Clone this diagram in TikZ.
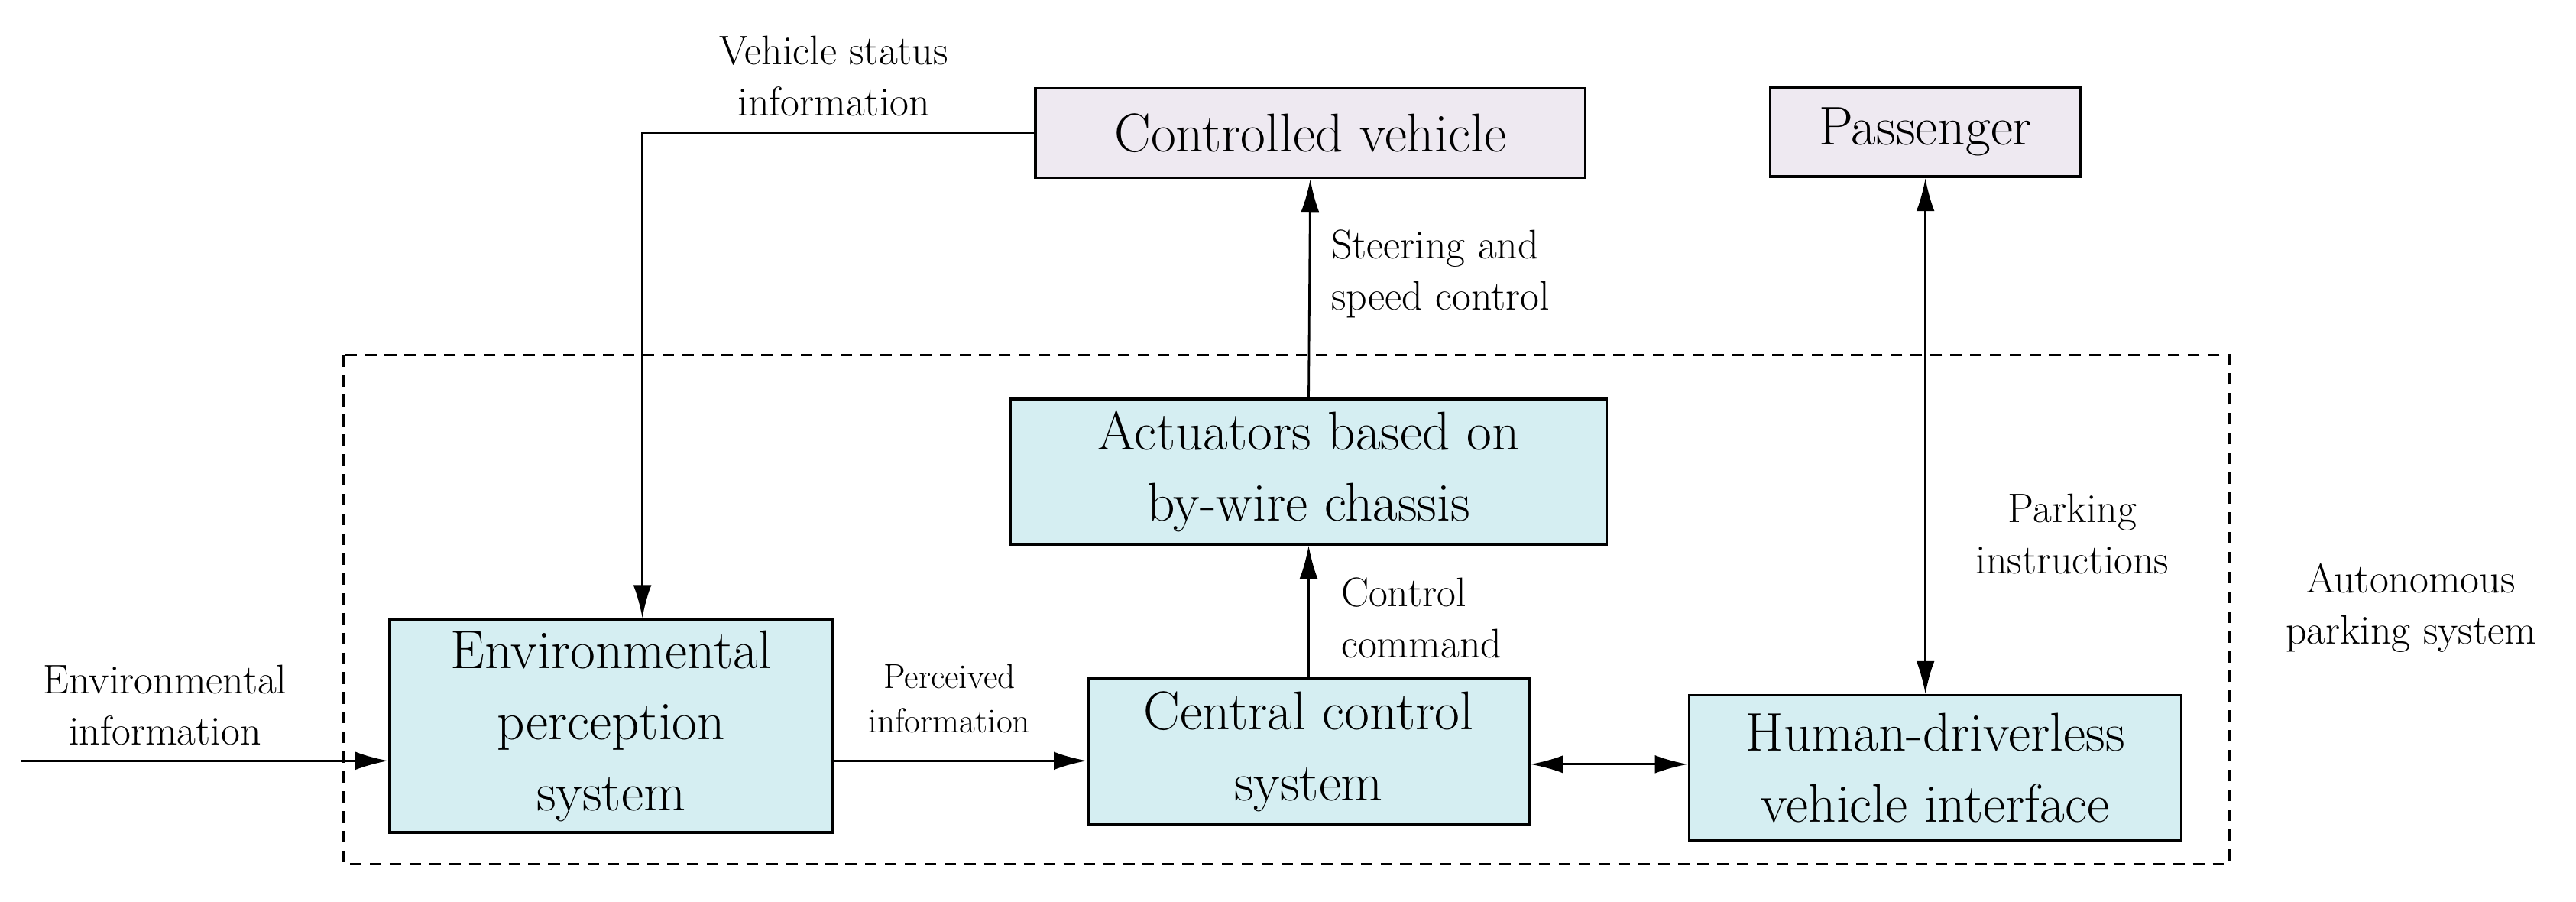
\documentclass[tikz,border=0pt]{standalone}
\usetikzlibrary{arrows.meta}
\definecolor{cy}{HTML}{D5EEF2}
\definecolor{lv}{HTML}{EEE9F1}
\begin{document}
\begin{tikzpicture}[x=1pt,y=-1pt,
 box/.style={draw,line width=1.6pt,fill=cy,align=center,font=\fontsize{33}{43}\selectfont,inner sep=0pt},
 top/.style={box,fill=lv},
 lab/.style={align=center,font=\fontsize{25}{31}\selectfont,inner sep=0pt},
 ar/.style={line width=1.3pt,-{Latex[length=20pt,width=11pt]}},
 dar/.style={line width=1.3pt,{Latex[length=20pt,width=11pt]}-{Latex[length=20pt,width=11pt]}}]
\useasboundingbox (0,0) rectangle (1560,546);
\node[top,minimum width=333pt,minimum height=54pt] (cv) at (793.5,80.5) {Controlled vehicle};
\node[top,minimum width=188pt,minimum height=54pt] (pa) at (1166,80) {Passenger};
\node[box,minimum width=361pt,minimum height=88pt] (ac) at (792.5,285.5) {Actuators based on\\by-wire chassis};
\node[box,minimum width=268pt,minimum height=129pt] (en) at (370,439.5) {Environmental\\perception\\system};
\node[box,minimum width=267pt,minimum height=88pt] (cc) at (792.5,455) {Central control\\system};
\node[box,minimum width=298pt,minimum height=88pt] (hu) at (1172,465) {Human-driverless\\vehicle interface};
\draw[line width=1.3pt,dash pattern=on 7pt off 5pt] (208,215) rectangle (1350,523);
\coordinate (fb) at (389,80.5);
\coordinate (in) at (13,460.6);
\draw[ar] (cv.west) -- (fb) -- (fb |- en.north);
\draw[ar] (in) -- (in -| en.west);
\draw[ar] (en.east |- in) -- (cc.west |- in);
\draw[dar] (cc.east |- 0,462.7) -- (hu.west |- 0,462.7);
\draw[ar] (cc.north) -- (ac.south);
\draw[ar] (ac.north) -- (cv.south);
\draw[dar] (pa.south) -- (hu.north -| pa.south);
\node[lab] (l1) at (505,46) {Vehicle status\\information};
\node[lab,align=left,anchor=west] (l2) at (806,166) {Steering and\\speed control};
\node[lab,align=left,anchor=west] (l3) at (812,374) {Control\\command};
\node[lab] (l4) at (1255,323) {Parking\\instructions};
\node[lab] (l5) at (1460,368) {Autonomous\\parking system};
\node[lab] (l6) at (100,427) {Environmental\\information};
\node[lab,font=\fontsize{21}{27}\selectfont] (l7) at (575,423) {Perceived\\information};
\end{tikzpicture}
\end{document}
